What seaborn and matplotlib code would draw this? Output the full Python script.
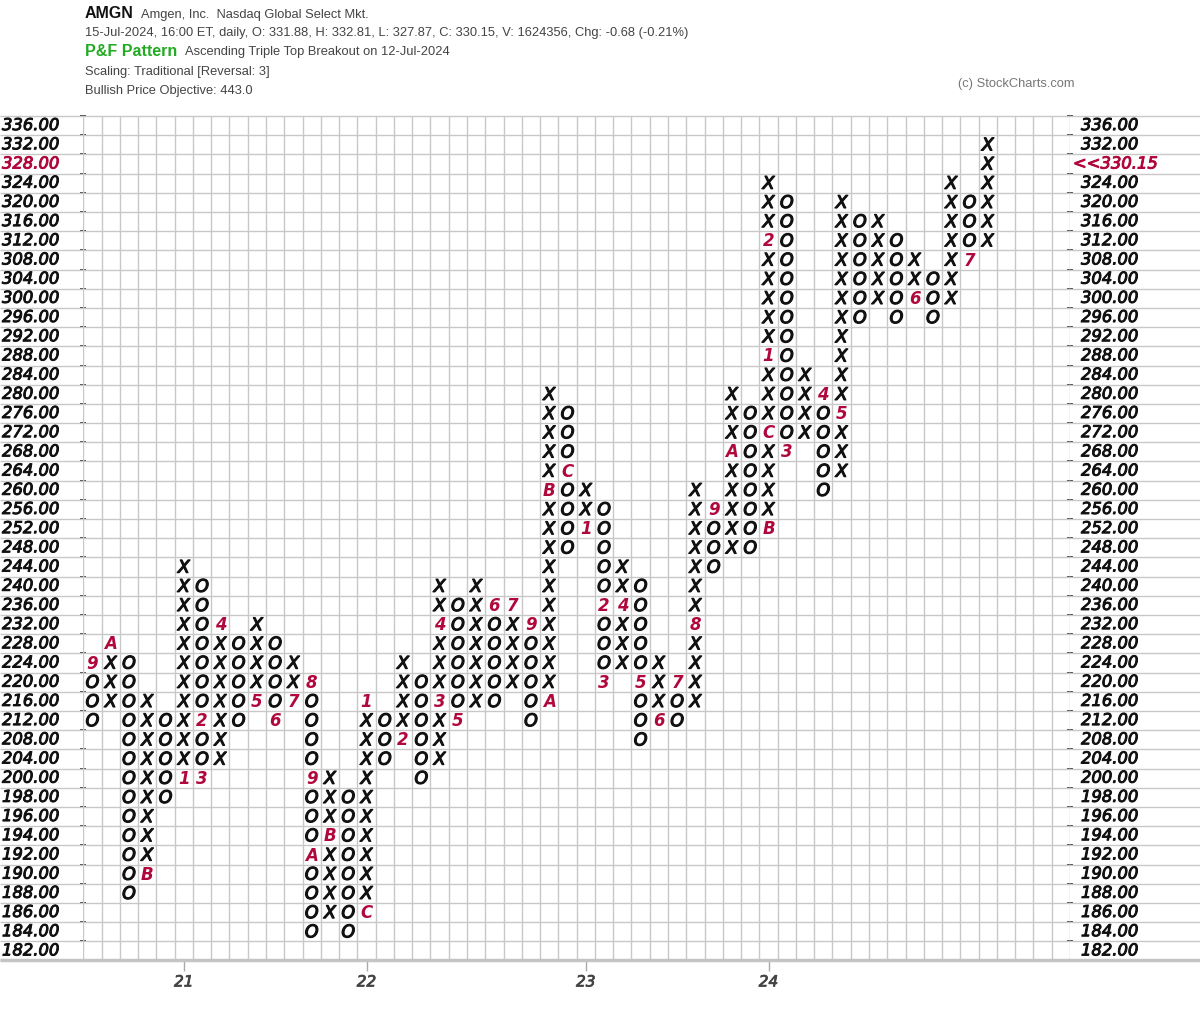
import numpy as np
import pandas as pd
import matplotlib
matplotlib.use('Agg')
import matplotlib.pyplot as plt
import matplotlib.patheffects as pe
from matplotlib.transforms import blended_transform_factory
import seaborn as sns

# box levels of the P&F chart, top to bottom
price_levels = [336, 332, 328, 324, 320, 316, 312, 308, 304, 300, 296, 292, 288, 284, 280,
                276, 272, 268, 264, 260, 256, 252, 248, 244, 240, 236, 232, 228, 224, 220,
                216, 212, 208, 204, 200, 198, 196, 194, 192, 190, 188, 186, 184, 182]

# columns: type, top box, bottom box
col_type = list("OX" * 25)
col_high = [224, 228, 224, 216, 212, 244, 240, 232, 228, 232, 228, 224, 220, 200, 198, 216, 212,
            224, 220, 240, 236, 240, 236, 236, 232, 280, 276, 260, 256, 244, 240, 224, 220, 260,
            256, 280, 276, 324, 320, 284, 280, 320, 316, 316, 312, 308, 304, 324, 320, 332]
col_low = [212, 216, 188, 190, 198, 200, 200, 204, 212, 216, 212, 216, 184, 186, 184, 186, 204,
           208, 200, 204, 212, 216, 216, 220, 212, 216, 248, 252, 220, 224, 208, 212, 212, 216,
           244, 248, 248, 252, 268, 272, 260, 264, 296, 300, 296, 300, 296, 300, 308, 312]

# month markers (column, box, month code)
month_col = [0, 1, 3, 5, 6, 6, 7, 9, 10, 11, 12, 12, 12, 13, 15, 15, 17, 19, 19, 20, 22, 23,
             24, 25, 25, 26, 27, 28, 28, 29, 30, 31, 32, 33, 34, 35, 37, 37, 37, 37, 38, 40,
             41, 45, 48]
month_price = [224, 228, 190, 200, 212, 200, 232, 216, 212, 216, 220, 200, 192, 194, 186, 216,
               208, 216, 232, 212, 236, 236, 232, 216, 260, 264, 252, 236, 220, 236, 220, 212,
               220, 232, 256, 268, 252, 272, 288, 312, 268, 280, 276, 300, 308]
month_text = ['9', 'A', 'B', '1', '2', '3', '4', '5', '6', '7', '8', '9', 'A', 'B', 'C', '1',
              '2', '3', '4', '5', '6', '7', '9', 'A', 'B', 'C', '1', '2', '3', '4', '5', '6',
              '7', '8', '9', 'A', 'B', 'C', '1', '2', '3', '4', '5', '6', '7']

year_col = [5, 15, 27, 37]
year_text = ['21', '22', '23', '24']

last_close = 330.15
last_box = 328

assert len(col_high) == len(col_low) == len(col_type)
assert len(month_col) == len(month_price) == len(month_text)

# build the boxes
labels = {(c, p): t for c, p, t in zip(month_col, month_price, month_text)}
recs = []
for i, (t, hi, lo) in enumerate(zip(col_type, col_high, col_low)):
    for p in price_levels:
        if lo <= p <= hi:
            lab = labels.get((i, p))
            recs.append((i, price_levels.index(p), lab if lab else t, lab is not None))
boxes = pd.DataFrame(recs, columns=['col', 'row', 'sym', 'month'])

sns.set_style('white')
plt.rcParams['font.family'] = ['DejaVu Sans']

W, H = 1200, 1018
fig = plt.figure(figsize=(W / 100, H / 100), dpi=100)
gx0, gx1, gy0, gy1 = 83.3, 1070.0, 116.0, 960.5
n_cols, n_rows = 54, len(price_levels)
ax = fig.add_axes([gx0 / W, 1 - gy1 / H, (gx1 - gx0) / W, (gy1 - gy0) / H])
ax.set_xlim(-0.5, n_cols - 0.5)
ax.set_ylim(n_rows - 0.5, -0.5)
for s in ax.spines.values():
    s.set_visible(False)

cw = (gx1 - gx0) / n_cols
grid_c = '#c8c8c8'
ax.vlines(np.arange(n_cols + 1) - 0.5, -0.5, n_rows - 0.5, color=grid_c, lw=1, zorder=1)
ax.hlines(np.arange(n_rows + 1) - 0.5, -0.5 - gx0 / cw, n_cols - 0.5 + (W - gx1) / cw,
          color=grid_c, lw=1, zorder=1, clip_on=False)
ax.hlines(n_rows - 0.5, -0.5 - gx0 / cw, n_cols - 0.5 + (W - gx1) / cw,
          color='#c4c4c4', lw=2.5, zorder=1, clip_on=False)


def thick(c, w=0.8):
    return [pe.withStroke(linewidth=w, foreground=c)]


red = '#b0083c'
for r in boxes.itertuples():
    c = red if r.month else '#111111'
    ax.text(r.col, r.row + 0.03, r.sym, ha='center', va='center',
            fontsize=12 if r.month else 12.5, style='italic',
            fontweight='bold' if r.month else 'normal', color=c, zorder=3,
            path_effects=None if r.month else thick(c, 0.9))

# price labels on both sides
trans = blended_transform_factory(fig.transFigure, ax.transData)
for i, p in enumerate(price_levels):
    c = red if p == last_box else '#111111'
    ax.text(2 / W, i, f'{p:.2f}', transform=trans, ha='left', va='center',
            fontsize=11.8, style='italic', color=c, path_effects=thick(c, 0.7))
    if p == last_box:
        ax.text(1073 / W, i, f'<<{last_close:.2f}', transform=trans, ha='left', va='center',
                fontsize=11.8, style='italic', color=red, path_effects=thick(red, 0.7))
    else:
        ax.text(1081 / W, i, f'{p:.2f}', transform=trans, ha='left', va='center',
                fontsize=11.8, style='italic', color=c, path_effects=thick(c, 0.7))

ax.set_yticks([])
ax.set_yticks(np.arange(n_rows + 1) - 0.5, minor=True)
ax.tick_params(axis='y', which='minor', left=True, right=True, length=5, width=1.2,
               direction='inout', color='#222222')
ax.set_xticks(year_col)
ax.set_xticklabels(year_text, fontsize=11, style='italic', color='#444444',
                   path_effects=thick('#444444', 0.6))
ax.tick_params(axis='x', which='major', bottom=True, length=7, width=1, color='#aaaaaa',
               direction='out', pad=3)

# header
hdr = ['Liberation Sans Narrow', 'Liberation Sans', 'DejaVu Sans']
fig.text(85 / W, 1 - 14 / H, 'AMGN', family=hdr, fontsize=11.5, fontweight='bold',
         color='#111111', va='center', ha='left')
fig.text(141 / W, 1 - 15 / H, 'Amgen, Inc.  Nasdaq Global Select Mkt.', family=hdr,
         fontsize=9.3, color='#444444', va='center', ha='left')
fig.text(85 / W, 1 - 33 / H,
         '15-Jul-2024, 16:00 ET, daily, O: 331.88, H: 332.81, L: 327.87, C: 330.15, '
         'V: 1624356, Chg: -0.68 (-0.21%)', family=hdr, fontsize=9.3, color='#444444',
         va='center', ha='left')
fig.text(85 / W, 1 - 52 / H, 'P&F Pattern', family=hdr, fontsize=11.5, fontweight='bold',
         color='#22aa22', va='center', ha='left')
fig.text(185 / W, 1 - 52 / H, 'Ascending Triple Top Breakout on 12-Jul-2024', family=hdr,
         fontsize=9.3, color='#444444', va='center', ha='left')
fig.text(85 / W, 1 - 72 / H, 'Scaling: Traditional [Reversal: 3]', family=hdr,
         fontsize=9.3, color='#444444', va='center', ha='left')
fig.text(85 / W, 1 - 91 / H, 'Bullish Price Objective: 443.0', family=hdr,
         fontsize=9.3, color='#444444', va='center', ha='left')
fig.text(958 / W, 1 - 84 / H, '(c) StockCharts.com', family=hdr, fontsize=9.3,
         color='#777777', va='center', ha='left')

fig.savefig('out.png', dpi=100, facecolor='white')
